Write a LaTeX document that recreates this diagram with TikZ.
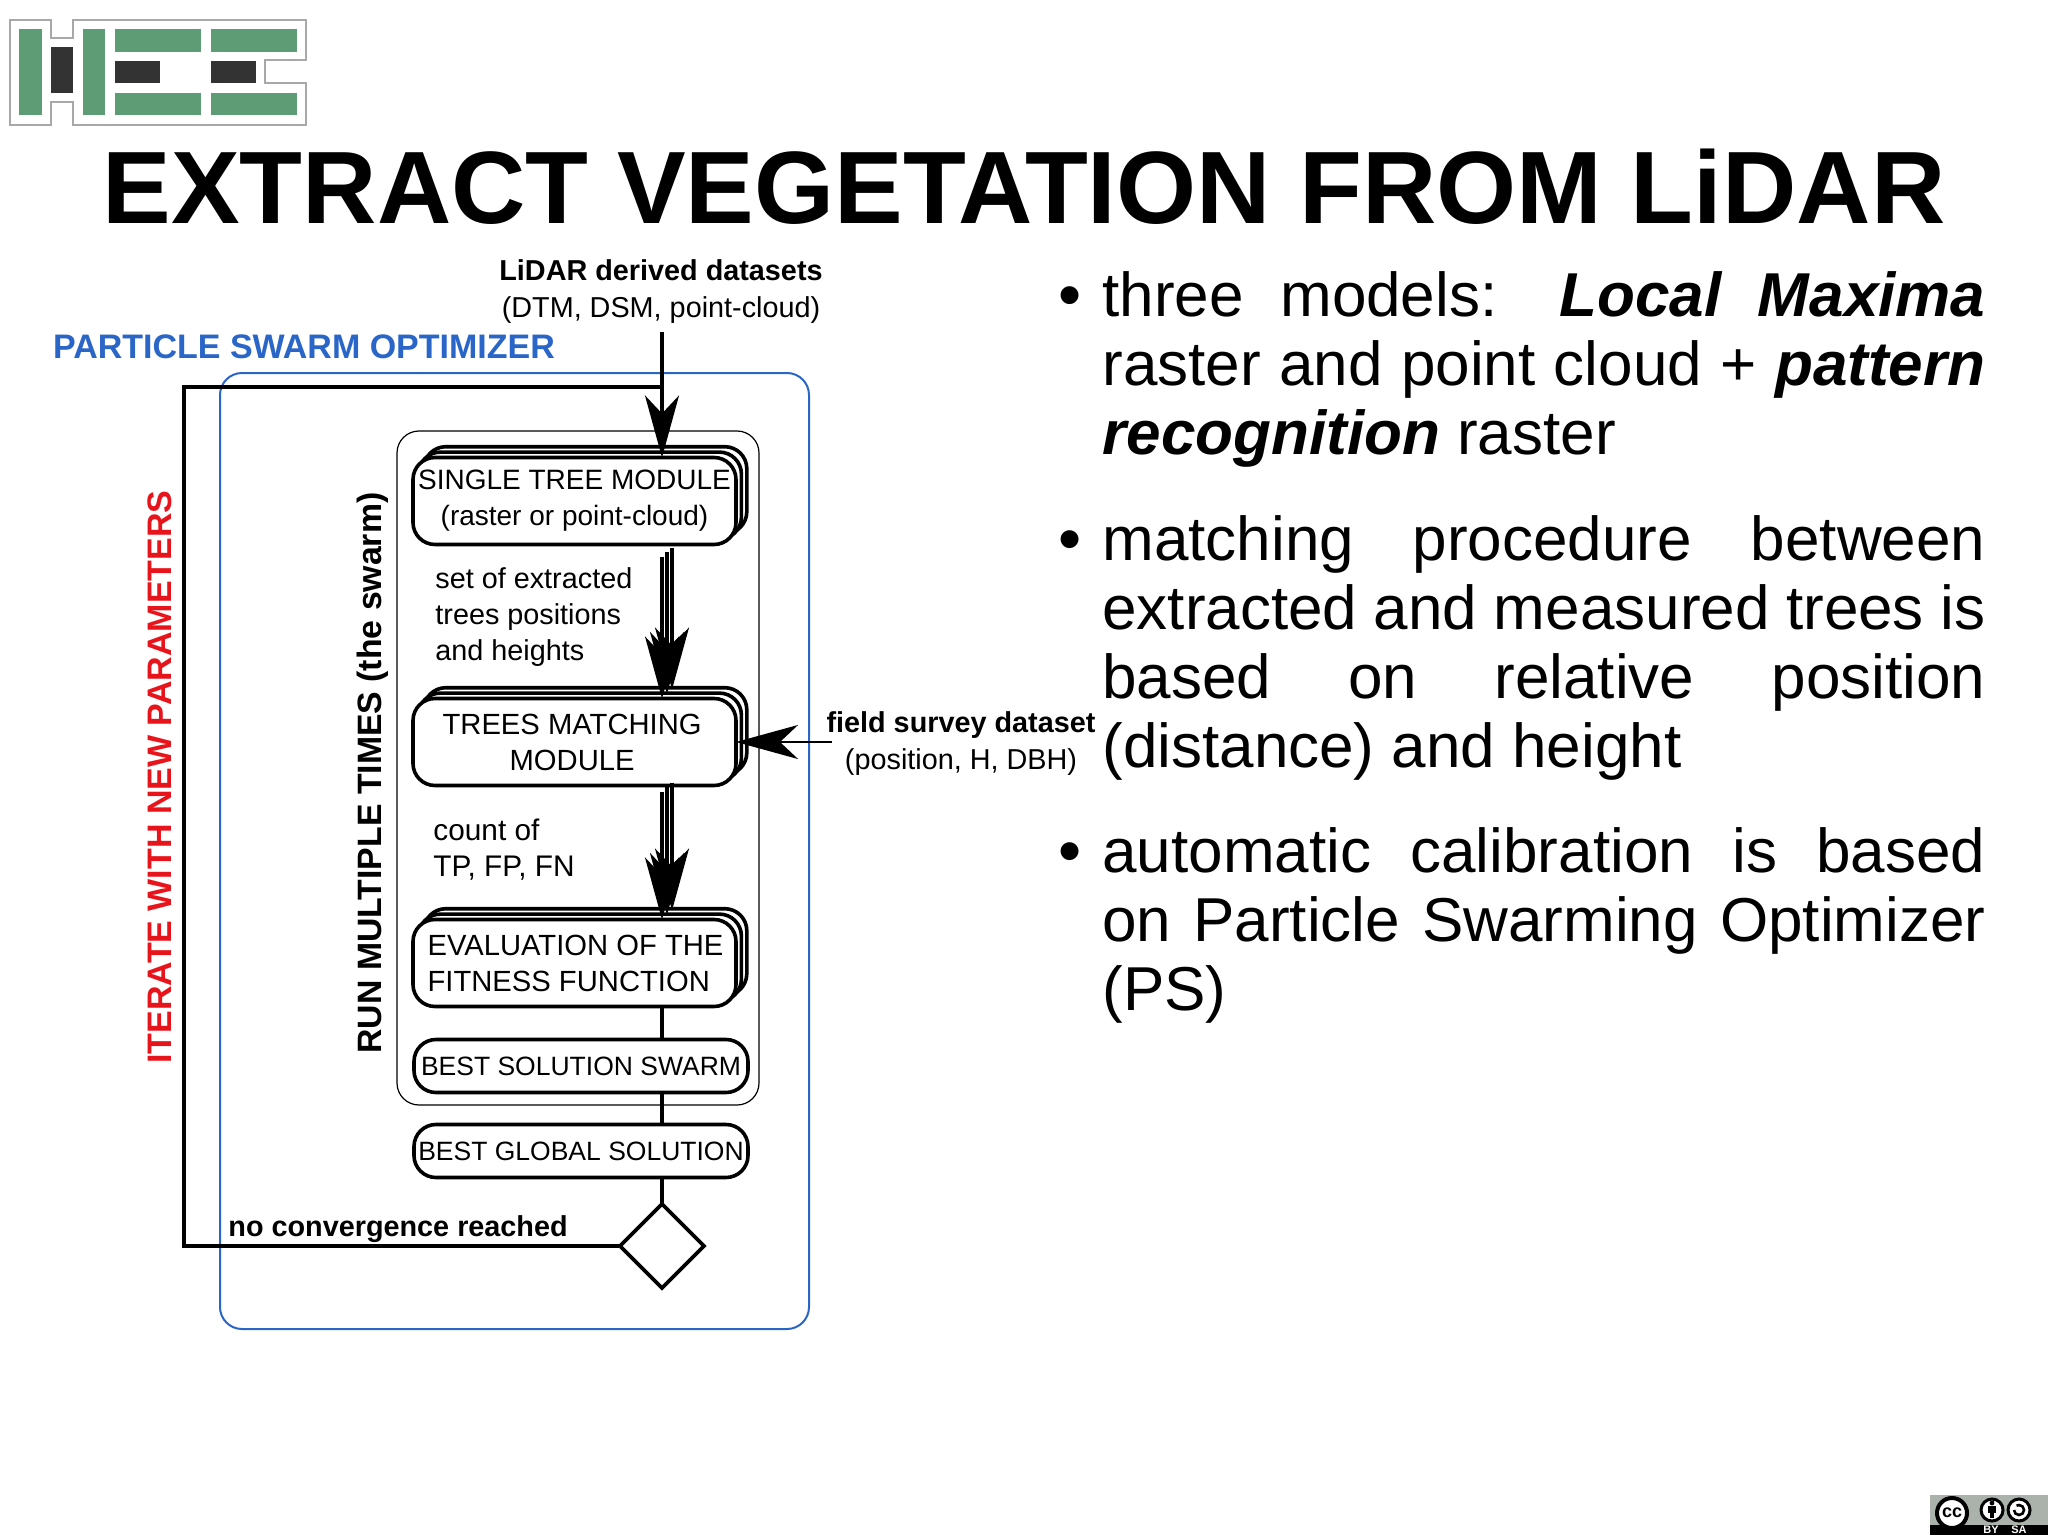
\documentclass[tikz,border=0pt]{standalone}
\usepackage{fontspec}
\setmainfont{Liberation Sans}
\usetikzlibrary{arrows.meta,shapes.geometric,shadows}
\definecolor{LogoGreen}{HTML}{5E9C76}
\definecolor{LogoDark}{HTML}{333333}
\definecolor{LogoEdge}{HTML}{A8A8A8}
\definecolor{FrameBlue}{HTML}{2A66C8}
\definecolor{IterRed}{HTML}{E8141C}
\definecolor{BadgeGray}{HTML}{AAB2AB}
\newcommand{\px}[2]{\fontsize{#1}{#2}\selectfont}
\tikzset{
  basebox/.style={draw,line width=1.8pt,fill=white,rounded corners=11pt,align=center,inner sep=0pt,outer sep=0pt,font=\px{14}{18}},
  stackbox/.style={basebox,minimum width=161.5pt,minimum height=43.5pt,
    double copy shadow={shadow xshift=2.7pt,shadow yshift=2.7pt}},
  flatbox/.style={basebox,minimum width=167pt,minimum height=26.5pt,font=\px{13.25}{16}},
  flow/.style={line width=1.6pt},
  flowtip/.style={flow,-{Stealth[length=31pt,width=17pt,inset=9pt]}},
  lbl/.style={font=\px{14.4}{18},align=left,inner sep=0pt},
  lblb/.style={font=\bfseries\px{14.4}{18},align=center,inner sep=0pt},
  para/.style={anchor=north west,text width=441.5pt,align=justify,inner sep=0pt,font=\px{31}{34.5}},
  dot/.style={inner sep=0pt,font=\px{33}{36}}
}
\begin{document}
\begin{tikzpicture}[x=0.5pt,y=-0.5pt]
  \useasboundingbox (0,0) rectangle (2048,1535);
  % logo
  \draw[LogoEdge,line width=1pt] (10,20)--(51,20)--(51,38)--(73,38)--(73,20)--(306,20)--(306,60)--(265,60)--(265,83)--(306,83)--(306,125)--(73,125)--(73,102)--(51,102)--(51,125)--(10,125)--cycle;
  \foreach \xa/\ya/\xb/\yb in {19/29/42/115,83/29/105/115,115/29/201/52,211/29/297/52,115/93/201/115,211/93/297/115} {
    \fill[LogoGreen] (\xa,\ya) rectangle (\xb,\yb);
  }
  \foreach \xa/\ya/\xb/\yb in {51/47/73/93,115/61/160/83,211/61/256/83} {
    \fill[LogoDark] (\xa,\ya) rectangle (\xb,\yb);
  }
  \node[font=\bfseries\px{51.45}{60},inner sep=0pt] (title) at (1024,187) {EXTRACT VEGETATION FROM LiDAR};
  % frames
  \draw[FrameBlue,line width=1pt,rounded corners=11pt] (220,373) rectangle (809,1329);
  \draw[line width=0.6pt,rounded corners=11pt] (397,431) rectangle (759,1105);
  \node[lblb,text=FrameBlue,font=\bfseries\px{17}{20}] (pso) at (304,347) {PARTICLE SWARM OPTIMIZER};
  \node[lblb,text=IterRed,rotate=90,font=\bfseries\px{17}{20}] (iter) at (160,777) {ITERATE WITH NEW PARAMETERS};
  \node[lblb,rotate=90,font=\bfseries\px{16.9}{20}] (run) at (373,773) {RUN MULTIPLE TIMES (the swarm)};
  % modules
  \node[stackbox] (single) at (574.5,501) {SINGLE TREE MODULE\\(raster or point-cloud)};
  \node[stackbox,font=\px{14.6}{18}] (match) at (574.5,742) {\hspace*{-2.4pt}TREES MATCHING\\\hspace*{-2.4pt}MODULE};
  \node[stackbox,font=\px{14.6}{18}] (fitness) at (574.5,963) {\hspace*{1pt}EVALUATION OF THE\hfill\null\\\hspace*{1pt}FITNESS FUNCTION\hfill\null};
  \node[flatbox] (swarm) at (581,1066) {BEST SOLUTION SWARM};
  \node[flatbox] (best) at (581,1151) {BEST GLOBAL SOLUTION};
  \node[diamond,draw,line width=1.8pt,fill=white,minimum width=42pt,minimum height=42pt,inner sep=0pt,outer sep=0pt] (check) at (662,1246) {};
  % connector ends
  \coordinate (mid) at (662,0);
  \coordinate (source) at (662,332);
  \coordinate (entry) at (662,387);
  \coordinate (backcorner) at (184,387);
  \coordinate (survey) at (832,742);
  \draw[flow] (check.west) -| (backcorner) -- (entry);
  \draw[flowtip] (source) -- (single.north -| source);
  \draw[flowtip,line width=1pt] (survey) -- (match.east);
  \foreach \d in {10,5,0} {
    \draw[flowtip,shorten <=6pt] ([xshift=0.5*\d pt,yshift=0.45*\d pt]single.south -| mid) -- ([xshift=0.5*\d pt,yshift=0.45*\d pt]match.north -| mid);
    \draw[flowtip,shorten <=3pt] ([xshift=0.5*\d pt,yshift=0.45*\d pt]match.south -| mid) -- ([xshift=0.5*\d pt,yshift=0.45*\d pt]fitness.north -| mid);
  }
  \draw[flow] (fitness.south -| mid) -- (swarm.north -| mid);
  \draw[flow] (swarm.south -| mid) -- (best.north -| mid);
  \draw[flow] (best.south -| mid) -- (check.north);
  % labels
  \node[lblb] (lidar) at (661,292) {LiDAR derived datasets\\[0.5pt]{\mdseries (DTM, DSM, point-cloud)}};
  \node[lblb] (field) at (961,744) {field survey dataset\\[0.5pt]{\mdseries (position, H, DBH)}};
  \node[lbl,anchor=west] (setof) at (435,617) {set of extracted\\trees positions\\and heights};
  \node[lbl,anchor=west,font=\px{14.9}{18}] (countof) at (433,850) {count of\\TP, FP, FN};
  \node[lblb,anchor=west] (noconv) at (228,1229) {no convergence reached};
  % bullets
  \node[dot] (b1) at (1070,302) {•};
  \node[dot] (b2) at (1070,546) {•};
  \node[dot] (b3) at (1070,858) {•};
  \node[para] (p1) at (1102,271) {three models: \textbf{\textit{Local Maxima}}\linebreak raster and point cloud + \textbf{\textit{pattern}}\linebreak \textbf{\textit{recognition}} raster};
  \node[para] (p2) at (1102,515) {matching procedure between\linebreak extracted and measured trees is\linebreak based on relative position\linebreak (distance) and height};
  \node[para] (p3) at (1102,827) {automatic calibration is based\linebreak on Particle Swarming Optimizer\linebreak (PS)};
  % licence badge
  \fill[BadgeGray] (1930,1495) rectangle (2048,1535);
  \fill[black] (1930,1525) rectangle (2048,1535);
  \draw[black,line width=2pt,fill=white] (1952,1513) circle (7.5pt);
  \node[font=\bfseries\px{9}{10},inner sep=0pt] (cc) at (1952,1513) {cc};
  \foreach \xa in {1992,2019} {
    \draw[black,line width=1.5pt,fill=white] (\xa,1510) circle (5.5pt);
  }
  \fill[black] (1992,1503) circle (1.2pt);
  \fill[black] (1988,1506) rectangle (1996,1513);
  \fill[black] (1990,1513) rectangle (1994,1518);
  \draw[black,line width=1.3pt] (2014,1510) arc (180:-120:5);
  \node[text=white,font=\bfseries\px{5.5}{6},inner sep=0pt] (by) at (1991,1530) {BY};
  \node[text=white,font=\bfseries\px{5.5}{6},inner sep=0pt] (sa) at (2019,1530) {SA};
\end{tikzpicture}
\end{document}
